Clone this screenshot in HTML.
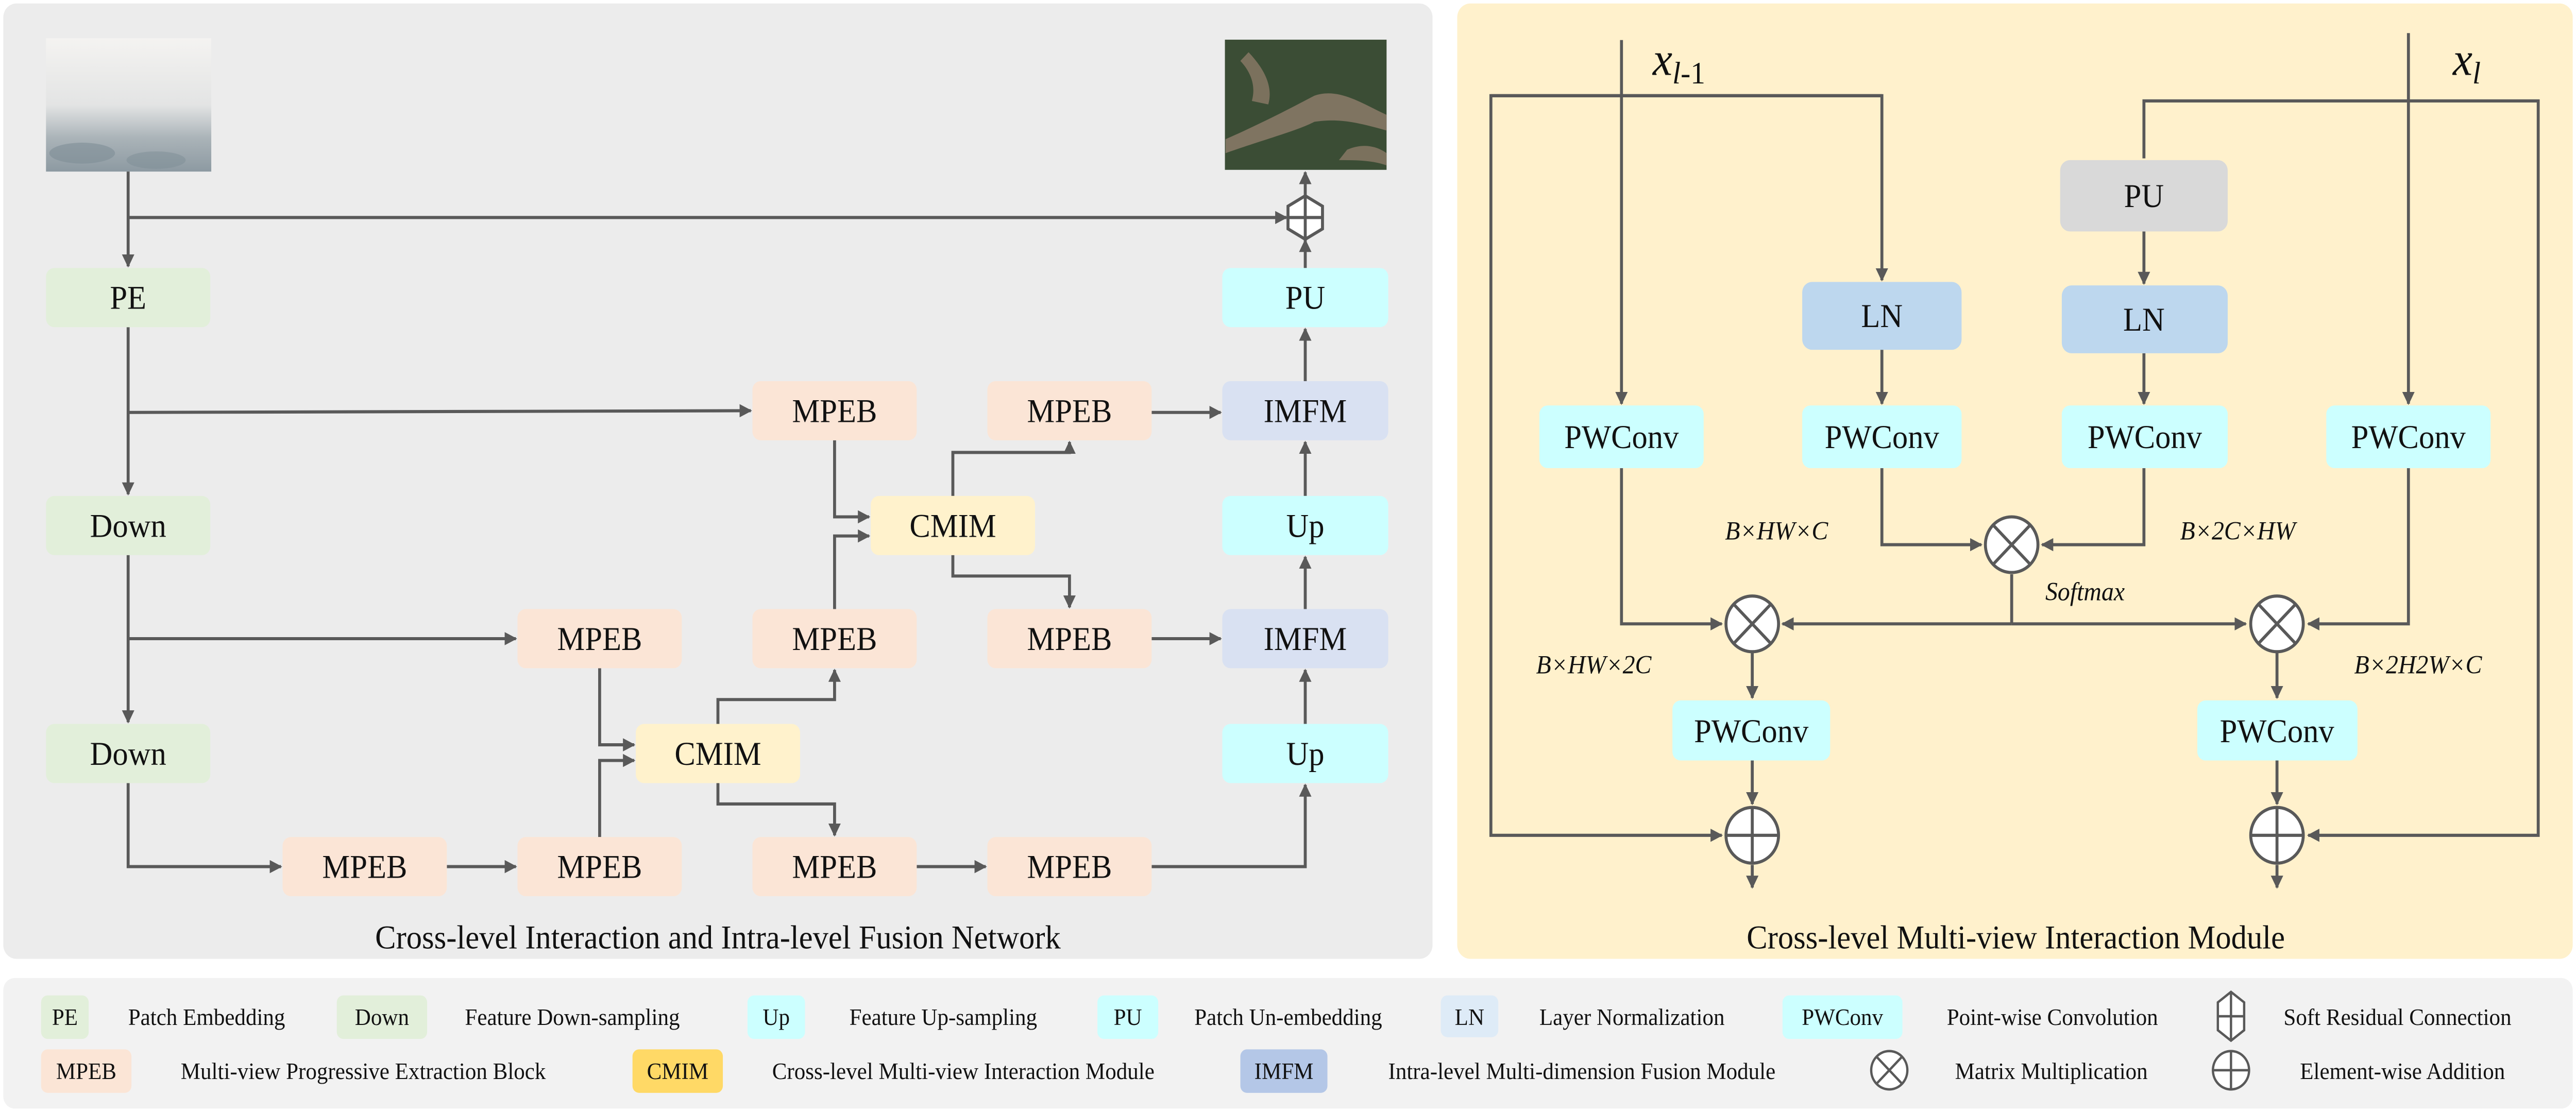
<!DOCTYPE html>
<html><head><meta charset="utf-8"><style>
html,body{margin:0;padding:0;background:#fff;width:100%;height:100%;overflow:hidden;}
svg{display:block;position:fixed;left:0;top:0;width:100vw;height:100vh;}
text{font-family:"Liberation Serif",serif;fill:#111;}
</style></head><body>
<svg viewBox="0 0 1568 639" preserveAspectRatio="none" xmlns="http://www.w3.org/2000/svg">
<defs>
<marker id="a" viewBox="0 0 10 10" refX="9" refY="5" markerWidth="4.2" markerHeight="4.2" orient="auto" markerUnits="strokeWidth"><path d="M0,0 L10,5 L0,10 z" fill="#595959"/></marker>
<linearGradient id="cl" x1="0" y1="0" x2="0" y2="1"><stop offset="0" stop-color="#f4f3f1"/><stop offset="0.5" stop-color="#e3e4e4"/><stop offset="0.75" stop-color="#aab3b8"/><stop offset="1" stop-color="#8d9aa2"/></linearGradient>
</defs>
<rect width="1568" height="639" fill="#fff"/>
<rect x="2" y="2" width="870" height="549" rx="8" fill="#ececec"/>
<rect x="887" y="2" width="679" height="549" rx="8" fill="#fff1cc"/>
<rect x="2" y="562" width="1564" height="75" rx="7" fill="#f2f2f2"/>

<rect x="28" y="22" width="100.6" height="76.6" fill="url(#cl)"/>
<ellipse cx="50" cy="88" rx="20" ry="6" fill="#7e8d96" opacity="0.6"/>
<ellipse cx="95" cy="92" rx="18" ry="5" fill="#7e8d96" opacity="0.5"/>
<rect x="745.6" y="22.8" width="98.4" height="74.8" fill="#3b4d35"/>
<path d="M746,80 C770,70 790,60 800,55 C815,50 830,60 844,66 L844,75 C825,70 815,68 800,70 C790,75 770,80 746,88z" fill="#8c7b68" opacity="0.85"/>
<path d="M760,30 C770,40 775,50 772,60 L762,58 C765,48 760,40 755,35z" fill="#8c7b68" opacity="0.8"/>
<path d="M820,86 C830,82 838,84 844,88 L844,95 C835,92 825,92 815,92z" fill="#8c7b68" opacity="0.8"/>

<g stroke="#595959" stroke-width="1.8" fill="none">
<line x1="78" y1="98.6" x2="78" y2="153" marker-end="url(#a)"/>
<line x1="78" y1="125" x2="783" y2="125" marker-end="url(#a)"/>
<line x1="794.5" y1="154" x2="794.5" y2="138" marker-end="url(#a)"/>
<line x1="794.5" y1="113" x2="794.5" y2="99" marker-end="url(#a)"/>
<line x1="78" y1="188" x2="78" y2="284" marker-end="url(#a)"/>
<line x1="78" y1="237" x2="457" y2="236" marker-end="url(#a)"/>
<line x1="78" y1="319" x2="78" y2="415" marker-end="url(#a)"/>
<line x1="78" y1="367" x2="314" y2="367" marker-end="url(#a)"/>
<polyline points="78,450 78,498 171,498" marker-end="url(#a)"/>
<line x1="272" y1="498" x2="314" y2="498" marker-end="url(#a)"/>
<line x1="558" y1="498" x2="600" y2="498" marker-end="url(#a)"/>
<polyline points="701,498 794.5,498 794.5,451" marker-end="url(#a)"/>
<line x1="794.5" y1="416" x2="794.5" y2="385" marker-end="url(#a)"/>
<line x1="794.5" y1="350" x2="794.5" y2="320" marker-end="url(#a)"/>
<line x1="794.5" y1="285" x2="794.5" y2="254" marker-end="url(#a)"/>
<line x1="794.5" y1="219" x2="794.5" y2="189" marker-end="url(#a)"/>
<line x1="701" y1="237" x2="743" y2="237" marker-end="url(#a)"/>
<line x1="701" y1="367" x2="743" y2="367" marker-end="url(#a)"/>
<polyline points="365,384 365,428 386,428" marker-end="url(#a)"/>
<polyline points="365,481 365,437 386,437" marker-end="url(#a)"/>
<polyline points="437,416 437,402 508,402 508,385" marker-end="url(#a)"/>
<polyline points="437,450 437,462 508,462 508,480" marker-end="url(#a)"/>
<polyline points="508,253 508,297 529,297" marker-end="url(#a)"/>
<polyline points="508,350 508,308 529,308" marker-end="url(#a)"/>
<polyline points="580,285 580,260 651,260 651,254" marker-end="url(#a)"/>
<polyline points="580,319 580,331 651,331 651,349" marker-end="url(#a)"/>

<line x1="987" y1="23" x2="987" y2="232" marker-end="url(#a)"/>
<polyline points="1145.5,55 907.5,55 907.5,480 1048,480" marker-end="url(#a)"/>
<polyline points="907.5,55 1145.5,55 1145.5,161" marker-end="url(#a)"/>
<line x1="1466" y1="19" x2="1466" y2="232" marker-end="url(#a)"/>
<polyline points="1305,91 1305,58 1545,58 1545,480 1405,480" marker-end="url(#a)"/>
<line x1="1305" y1="133" x2="1305" y2="163" marker-end="url(#a)"/>
<line x1="1145.5" y1="201" x2="1145.5" y2="232" marker-end="url(#a)"/>
<line x1="1305" y1="203" x2="1305" y2="232" marker-end="url(#a)"/>
<polyline points="1145.5,269 1145.5,313 1206,313" marker-end="url(#a)"/>
<polyline points="1305,269 1305,313 1243,313" marker-end="url(#a)"/>
<line x1="1224.5" y1="330" x2="1224.5" y2="358.5"/>
<line x1="1224.5" y1="358.5" x2="1085" y2="358.5" marker-end="url(#a)"/>
<line x1="1224.5" y1="358.5" x2="1367" y2="358.5" marker-end="url(#a)"/>
<polyline points="987,269 987,358.5 1048,358.5" marker-end="url(#a)"/>
<polyline points="1466,269 1466,358.5 1405,358.5" marker-end="url(#a)"/>
<line x1="1066.6" y1="375" x2="1066.6" y2="401" marker-end="url(#a)"/>
<line x1="1386" y1="375" x2="1386" y2="401" marker-end="url(#a)"/>
<line x1="1066.6" y1="437" x2="1066.6" y2="462" marker-end="url(#a)"/>
<line x1="1386" y1="437" x2="1386" y2="462" marker-end="url(#a)"/>
<line x1="1066.6" y1="497" x2="1066.6" y2="510" marker-end="url(#a)"/>
<line x1="1386" y1="497" x2="1386" y2="510" marker-end="url(#a)"/>
</g>

<g stroke="#595959" stroke-width="1.8" fill="#fff">
<polygon points="794.5,112.5 805,118.5 805,131.5 794.5,137.5 784,131.5 784,118.5"/>
<line x1="794.5" y1="112.5" x2="794.5" y2="137.5"/><line x1="784" y1="125" x2="805" y2="125"/>
</g>

<g font-size="19" text-anchor="middle">
<rect x="28" y="154" width="100" height="34" rx="5" fill="#e2efda"/><text x="78" y="177.5">PE</text>
<rect x="28" y="285" width="100" height="34" rx="5" fill="#e2efda"/><text x="78" y="308.5">Down</text>
<rect x="28" y="416" width="100" height="34" rx="5" fill="#e2efda"/><text x="78" y="439.5">Down</text>
<rect x="744" y="154" width="101" height="34" rx="5" fill="#ccffff"/><text x="794.5" y="177.5">PU</text>
<rect x="744" y="285" width="101" height="34" rx="5" fill="#ccffff"/><text x="794.5" y="308.5">Up</text>
<rect x="744" y="416" width="101" height="34" rx="5" fill="#ccffff"/><text x="794.5" y="439.5">Up</text>
<rect x="744" y="219" width="101" height="34" rx="5" fill="#d9e1f2"/><text x="794.5" y="242.5">IMFM</text>
<rect x="744" y="350" width="101" height="34" rx="5" fill="#d9e1f2"/><text x="794.5" y="373.5">IMFM</text>
<rect x="530" y="285" width="100" height="34" rx="5" fill="#fff2cc"/><text x="580" y="308.5">CMIM</text>
<rect x="387" y="416" width="100" height="34" rx="5" fill="#fff2cc"/><text x="437" y="439.5">CMIM</text>
<g fill="#fbe5d6">
<rect x="458" y="219" width="100" height="34" rx="5"/><rect x="601" y="219" width="100" height="34" rx="5"/>
<rect x="315" y="350" width="100" height="34" rx="5"/><rect x="458" y="350" width="100" height="34" rx="5"/><rect x="601" y="350" width="100" height="34" rx="5"/>
<rect x="172" y="481" width="100" height="34" rx="5"/><rect x="315" y="481" width="100" height="34" rx="5"/><rect x="458" y="481" width="100" height="34" rx="5"/><rect x="601" y="481" width="100" height="34" rx="5"/>
</g>
<text x="508" y="242.5">MPEB</text><text x="651" y="242.5">MPEB</text>
<text x="365" y="373.5">MPEB</text><text x="508" y="373.5">MPEB</text><text x="651" y="373.5">MPEB</text>
<text x="222" y="504.5">MPEB</text><text x="365" y="504.5">MPEB</text><text x="508" y="504.5">MPEB</text><text x="651" y="504.5">MPEB</text>
<text x="437" y="545">Cross-level Interaction and Intra-level Fusion Network</text>

<rect x="1254" y="92" width="102" height="41" rx="6" fill="#d9d9d9"/><text x="1305" y="119">PU</text>
<rect x="1097" y="162" width="97" height="39" rx="6" fill="#bdd7ee"/><text x="1145.5" y="188">LN</text>
<rect x="1255" y="164" width="101" height="39" rx="6" fill="#bdd7ee"/><text x="1305" y="190">LN</text>
<g fill="#ccffff">
<rect x="937" y="233" width="100" height="36" rx="5"/><rect x="1097" y="233" width="97" height="36" rx="5"/>
<rect x="1255" y="233" width="101" height="36" rx="5"/><rect x="1416" y="233" width="100" height="36" rx="5"/>
<rect x="1018" y="402.5" width="96" height="34.5" rx="5"/><rect x="1337.5" y="402.5" width="97.5" height="34.5" rx="5"/>
</g>
<text x="987" y="257.5">PWConv</text><text x="1145.5" y="257.5">PWConv</text><text x="1305.5" y="257.5">PWConv</text><text x="1466" y="257.5">PWConv</text>
<text x="1066" y="426.5">PWConv</text><text x="1386" y="426.5">PWConv</text>
<text x="1227" y="545">Cross-level Multi-view Interaction Module</text>
</g>

<g stroke="#595959" stroke-width="1.8" fill="#fff">
<circle cx="1224.5" cy="313" r="16"/><path d="M1213.2,301.7 L1235.8,324.3 M1235.8,301.7 L1213.2,324.3"/>
<circle cx="1066.6" cy="358.5" r="16"/><path d="M1055.3,347.2 L1077.9,369.8 M1077.9,347.2 L1055.3,369.8"/>
<circle cx="1386" cy="358.5" r="16"/><path d="M1374.7,347.2 L1397.3,369.8 M1397.3,347.2 L1374.7,369.8"/>
<circle cx="1066.6" cy="480" r="16"/><path d="M1050.6,480 H1082.6 M1066.6,464 V496"/>
<circle cx="1386" cy="480" r="16"/><path d="M1370,480 H1402 M1386,464 V496"/>
</g>

<g font-style="italic" font-size="15">
<text x="1006" y="43" font-size="27">x<tspan font-size="18" dy="5">l</tspan><tspan font-size="18" font-style="normal">-1</tspan></text>
<text x="1493" y="43" font-size="27">x<tspan font-size="18" dy="5">l</tspan></text>
<text x="1050" y="310">B×HW×C</text>
<text x="1327" y="310">B×2C×HW</text>
<text x="1245" y="345">Softmax</text>
<text x="935" y="387">B×HW×2C</text>
<text x="1433" y="387">B×2H2W×C</text>
</g>

<g font-size="13.5">
<rect x="25" y="572" width="29" height="25" rx="4" fill="#e2efda"/><text x="39.5" y="589" text-anchor="middle">PE</text><text x="78" y="589">Patch Embedding</text>
<rect x="205" y="572" width="55" height="25" rx="4" fill="#e2efda"/><text x="232.5" y="589" text-anchor="middle">Down</text><text x="283" y="589">Feature  Down-sampling</text>
<rect x="455" y="572" width="35" height="25" rx="4" fill="#ccffff"/><text x="472.5" y="589" text-anchor="middle">Up</text><text x="517" y="589">Feature Up-sampling</text>
<rect x="668" y="572" width="37" height="25" rx="4" fill="#ccffff"/><text x="686.5" y="589" text-anchor="middle">PU</text><text x="727" y="589">Patch Un-embedding</text>
<rect x="877" y="572" width="35" height="24" rx="4" fill="#deebf7"/><text x="894.5" y="589" text-anchor="middle">LN</text><text x="937" y="589">Layer Normalization</text>
<rect x="1085" y="572" width="73" height="25" rx="4" fill="#ccffff"/><text x="1121.5" y="589" text-anchor="middle">PWConv</text><text x="1185" y="589">Point-wise Convolution</text>
<text x="1390" y="589">Soft Residual Connection</text>
<rect x="25" y="603" width="55" height="25" rx="4" fill="#fbe5d6"/><text x="52.5" y="620" text-anchor="middle">MPEB</text><text x="110" y="620">Multi-view Progressive Extraction Block</text>
<rect x="385" y="603" width="55" height="25" rx="4" fill="#ffd966"/><text x="412.5" y="620" text-anchor="middle">CMIM</text><text x="470" y="620">Cross-level Multi-view Interaction Module</text>
<rect x="755" y="603" width="53" height="25" rx="4" fill="#b4c7e7"/><text x="781.5" y="620" text-anchor="middle">IMFM</text><text x="845" y="620">Intra-level Multi-dimension Fusion Module</text>
<text x="1190" y="620">Matrix Multiplication</text>
<text x="1400" y="620">Element-wise Addition</text>
</g>
<g stroke="#595959" stroke-width="1.4" fill="#fff">
<polygon points="1358,570 1366,576 1366,592 1358,598 1350,592 1350,576"/><path d="M1358,570 V598 M1350,584 H1366"/>
<circle cx="1150" cy="615" r="11"/><path d="M1142.2,607.2 L1157.8,622.8 M1157.8,607.2 L1142.2,622.8"/>
<circle cx="1358" cy="615" r="11"/><path d="M1347,615 H1369 M1358,604 V626"/>
</g>
</svg>
</body></html>
